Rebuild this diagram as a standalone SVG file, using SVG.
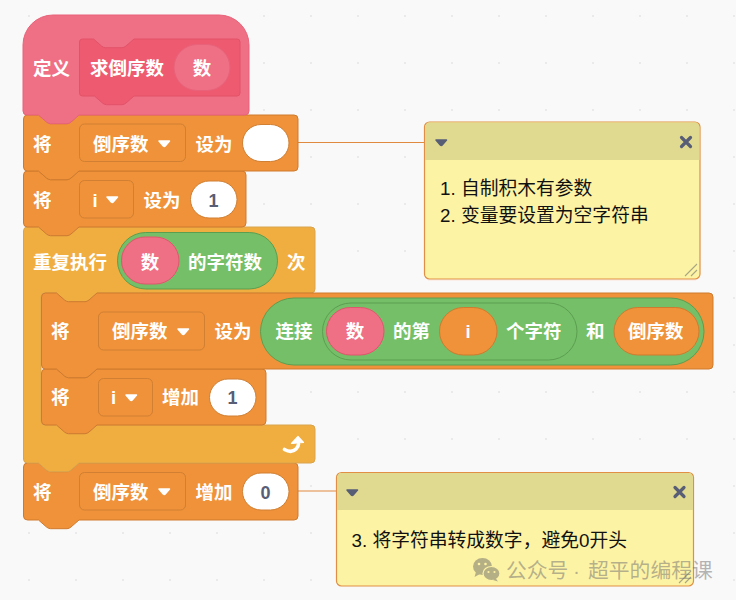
<svg xmlns="http://www.w3.org/2000/svg" width="736" height="600" viewBox="0 0 736 600">
<style>
text{font-family:"Liberation Sans","Noto Sans CJK SC",sans-serif;font-size:18.5px;font-weight:600;fill:#fff}
.ctr{text-anchor:middle}
.i{font-weight:700}
.num{font-family:"Liberation Sans",sans-serif;font-weight:700;font-size:18px;fill:#575e75;text-anchor:middle}
.org{fill:#ef9239;stroke:#cf7b2f}
.ctl{fill:#f1ae40;stroke:#d9a44e}
.dd{fill:#ef9239;stroke:#d07f33;stroke-width:1}
.wh{fill:#fff;stroke:#d07f33;stroke-width:1}
.grn{fill:#75bf68;stroke:#5c9e50;stroke-width:1}
.pnk{fill:#ef6f85;stroke:#e0566c;stroke-width:1}
.opl{fill:#ef9239;stroke:#cf7b2f;stroke-width:1}
.tri{fill:#fff;stroke:#fff;stroke-width:1.5;stroke-linejoin:round}
text.note{font-size:18.8px;font-weight:400;fill:#111}
.nb{fill:#fdf3a5;stroke:#e08f45;stroke-width:1.2}
.nh{fill:#e0d990}
.nt{fill:#575e75;stroke:#575e75;stroke-width:1.5;stroke-linejoin:round}
.nx{stroke:#575e75;stroke-width:3.2;stroke-linecap:round;fill:none}
.rs{stroke:#a9a684;stroke-width:1.1;fill:none}
text.wm{font-size:20.8px;font-weight:400;fill:#6e6e6e;fill-opacity:.5}
</style>
<defs>
<pattern id="dots" x="5" y="-8" width="47" height="47" patternUnits="userSpaceOnUse"><circle cx="24" cy="24" r="1.1" fill="#e6e6e6"/></pattern>
<path id="t" d="M0 0h10.500l-4.300 5q-.95 1-1.900 0z"/>
</defs>
<rect width="736" height="600" fill="#f9f9f9"/>
<rect width="736" height="600" fill="url(#dots)"/>

<g id="connectors" fill="none" stroke="#e08a3f" stroke-width="1.2">
<line x1="298" y1="142.500" x2="425" y2="142.500"/>
<line x1="298" y1="491" x2="336" y2="491"/>
</g>

<g id="set-rev-num-inc">
<path class="org" d="M23.500 467a4 4 0 0 1 4-4h11l8 7q2 1.700 4 1.700h16.500q2 0 4-1.700l8-7H294a4 4 0 0 1 4 4v49a4 4 0 0 1-4 4H79l-8 7q-2 1.700-4 1.700H50.500q-2 0-4-1.700l-8-7H27.500a4 4 0 0 1-4-4z"/>
<text x="33" y="498.500">将</text>
<rect class="dd" x="79.500" y="472.500" width="106" height="37.500" rx="5"/>
<text x="93" y="498.500">倒序数</text>
<use href="#t" class="tri" x="159" y="489"/>
<text x="195.500" y="498.500">增加</text>
<rect class="wh" x="242.500" y="473" width="46.500" height="37" rx="18.500"/>
<text class="num" x="265.500" y="498.500">0</text>
</g>

<g id="repeat">
<path class="ctl" d="M23.500 231a4 4 0 0 1 4-4h11l8 7q2 1.700 4 1.700h16.500q2 0 4-1.700l8-7H311a4 4 0 0 1 4 4v58a4 4 0 0 1-4 4H97l-8 7q-2 1.700-4 1.700H68.500q-2 0-4-1.700l-8-7H45a4 4 0 0 0-4 4v124a4 4 0 0 0 4 4h11.500l8 7q2 1.700 4 1.700h16.500q2 0 4-1.700l8-7H311a4 4 0 0 1 4 4v30a4 4 0 0 1-4 4H79l-8 7q-2 1.700-4 1.700H50.500q-2 0-4-1.700l-8-7H27.500a4 4 0 0 1-4-4z"/>
<text x="33" y="268.500">重复执行</text>
<rect class="grn" x="117.500" y="232.500" width="160" height="56.500" rx="28.250"/>
<rect class="pnk" x="121.500" y="237" width="57.500" height="47" rx="23.500"/>
<text class="ctr" x="150" y="268.500">数</text>
<text x="188" y="268.500">的字符数</text>
<text x="287" y="268.500">次</text>
<path d="M284.500 449.500q7 4 11.500-.5q2.500-2.500 2.500-5" fill="none" stroke="#fff" stroke-width="3.600" stroke-linecap="round"/>
<path d="M291.500 443.500L298 436.500l5.500 6z" fill="#fff" stroke="#fff" stroke-width="1.200" stroke-linejoin="round"/>
</g>

<g id="change-i">
<path class="org" d="M41.500 373a4 4 0 0 1 4-4h11l8 7q2 1.700 4 1.700h16.500q2 0 4-1.700l8-7H262a4 4 0 0 1 4 4v48a4 4 0 0 1-4 4H97l-8 7q-2 1.700-4 1.700H68.500q-2 0-4-1.700l-8-7H45.500a4 4 0 0 1-4-4z"/>
<text x="51" y="403.500">将</text>
<rect class="dd" x="98.500" y="378.500" width="54" height="37.500" rx="5"/>
<text class="i" x="111" y="403.500">i</text>
<use href="#t" class="tri" x="126" y="395"/>
<text x="162" y="403.500">增加</text>
<rect class="wh" x="209.500" y="379" width="46.500" height="37" rx="18.500"/>
<text class="num" x="232.500" y="403.500">1</text>
</g>

<g id="set-rev-join">
<path class="org" d="M41.500 297a4 4 0 0 1 4-4h11l8 7q2 1.700 4 1.700h16.500q2 0 4-1.700l8-7H709a4 4 0 0 1 4 4v68a4 4 0 0 1-4 4H97l-8 7q-2 1.700-4 1.700H68.500q-2 0-4-1.700l-8-7H45.500a4 4 0 0 1-4-4z"/>
<text x="51" y="337.500">将</text>
<rect class="dd" x="98.500" y="312" width="106" height="38" rx="5"/>
<text x="112" y="337.500">倒序数</text>
<use href="#t" class="tri" x="178" y="329"/>
<text x="214.500" y="337.500">设为</text>
<rect class="grn" x="260.500" y="298" width="443.500" height="67" rx="33.500"/>
<text x="275.500" y="337.500">连接</text>
<rect class="grn" x="322.500" y="303" width="254.500" height="57" rx="28.500"/>
<rect class="pnk" x="326.500" y="307.500" width="57.500" height="47.500" rx="23.750"/>
<text class="ctr" x="355" y="337.500">数</text>
<text x="393" y="337.500">的第</text>
<rect class="opl" x="439.500" y="307.500" width="57.500" height="47.500" rx="23.750"/>
<text class="ctr i" x="468" y="337.500">i</text>
<text x="506" y="337.500">个字符</text>
<text x="586" y="337.500">和</text>
<rect class="opl" x="614" y="307.500" width="85" height="47.500" rx="23.750"/>
<text x="628" y="337.500">倒序数</text>
</g>

<g id="set-i">
<path class="org" d="M23.500 175a4 4 0 0 1 4-4h11l8 7q2 1.700 4 1.700h16.500q2 0 4-1.700l8-7H242a4 4 0 0 1 4 4v48a4 4 0 0 1-4 4H79l-8 7q-2 1.700-4 1.700H50.500q-2 0-4-1.700l-8-7H27.500a4 4 0 0 1-4-4z"/>
<text x="33" y="206.500">将</text>
<rect class="dd" x="79.500" y="180.500" width="54" height="37.500" rx="5"/>
<text class="i" x="92.500" y="206.500">i</text>
<use href="#t" class="tri" x="107" y="197"/>
<text x="143.500" y="206.500">设为</text>
<rect class="wh" x="190.500" y="181" width="46.500" height="37" rx="18.500"/>
<text class="num" x="213.500" y="206.500">1</text>
</g>

<g id="set-rev-empty">
<path class="org" d="M23.500 119a4 4 0 0 1 4-4h11l8 7q2 1.700 4 1.700h16.500q2 0 4-1.700l8-7H294a4 4 0 0 1 4 4v48a4 4 0 0 1-4 4H79l-8 7q-2 1.700-4 1.700H50.500q-2 0-4-1.700l-8-7H27.500a4 4 0 0 1-4-4z"/>
<text x="33" y="150.500">将</text>
<rect class="dd" x="79.500" y="124" width="106" height="37.500" rx="5"/>
<text x="93" y="150.500">倒序数</text>
<use href="#t" class="tri" x="159" y="141"/>
<text x="195.500" y="150.500">设为</text>
<rect class="wh" x="242.500" y="124.500" width="46.500" height="37" rx="18.500"/>
</g>

<g id="define">
<path fill="#ef6f85" stroke="#e8637a" d="M23 45a30 30 0 0 1 30-30H219a30 30 0 0 1 30 30v66a4 4 0 0 1-4 4H79l-8 7q-2 1.700-4 1.700H50.500q-2 0-4-1.700l-8-7H27a4 4 0 0 1-4-4z"/>
<text x="33" y="75">定义</text>
<path fill="#ee5a70" stroke="#e25369" d="M79.500 42a3 3 0 0 1 3-3h11l8 7q2 1.700 4 1.700h16.500q2 0 4-1.700l8-7H237a3 3 0 0 1 3 3v51a3 3 0 0 1-3 3H134l-8 7q-2 1.700-4 1.700h-15.500q-2 0-4-1.700l-8-7H82.500a3 3 0 0 1-3-3z"/>
<text x="90" y="75">求倒序数</text>
<rect x="174" y="44.500" width="56" height="46" rx="23" fill="#ef6f85" stroke="#e8637a"/>
<text class="ctr" x="202" y="75">数</text>
</g>

<g id="note-1">
<rect x="428" y="279.500" width="268" height="1.500" fill="#fbeee8"/>
<rect class="nb" x="424.500" y="122" width="275.500" height="157" rx="5"/>
<path class="nh" d="M425.100 127a4.400 4.400 0 0 1 4.400-4.400H695a4.400 4.400 0 0 1 4.400 4.400v33H425.100z"/>
<use href="#t" class="nt" x="436" y="140"/>
<path class="nx" d="M681.500 137.500l9 9M690.500 137.500l-9 9"/>
<text class="note" x="440" y="195">1. 自制积木有参数</text>
<text class="note" x="440" y="221.500">2. 变量要设置为空字符串</text>
<path class="rs" d="M685 276l12-12M691 276l6-6"/>
</g>

<g id="note-2">
<rect class="nb" x="336.500" y="472.500" width="357" height="113.500" rx="5"/>
<path class="nh" d="M337.100 477.500a4.400 4.400 0 0 1 4.400-4.400H688.500a4.400 4.400 0 0 1 4.400 4.400V510H337.100z"/>
<use href="#t" class="nt" x="347" y="490"/>
<path class="nx" d="M675 487.500l9 9M684 487.500l-9 9"/>
<text class="note" x="351.500" y="546.500">3. 将字符串转成数字，避免0开头</text>
<path class="rs" d="M679 583l12-12M685 583l6-6"/>
</g>

<g id="watermark">
<ellipse cx="482.500" cy="566.500" rx="9.500" ry="8.500" fill="#b5af85"/>
<path d="M476 572l-1.500 5 5.500-3z" fill="#b5af85"/>
<ellipse cx="491.500" cy="573.500" rx="8.500" ry="7" fill="#b5af85" stroke="#fdf3a5" stroke-width="1.200"/>
<path d="M495.500 578l2.500 3.500-5-1.500z" fill="#b5af85"/>
<circle cx="479" cy="564" r="1.300" fill="#fdf3a5"/>
<circle cx="485.500" cy="564" r="1.300" fill="#fdf3a5"/>
<circle cx="488.500" cy="572" r="1.100" fill="#fdf3a5"/>
<circle cx="494.500" cy="572" r="1.100" fill="#fdf3a5"/>
<text class="wm" x="506" y="578">公众号</text>
<text class="wm" x="573" y="578">·</text>
<text class="wm" x="588" y="578">超平的编程课</text>
</g>
</svg>
